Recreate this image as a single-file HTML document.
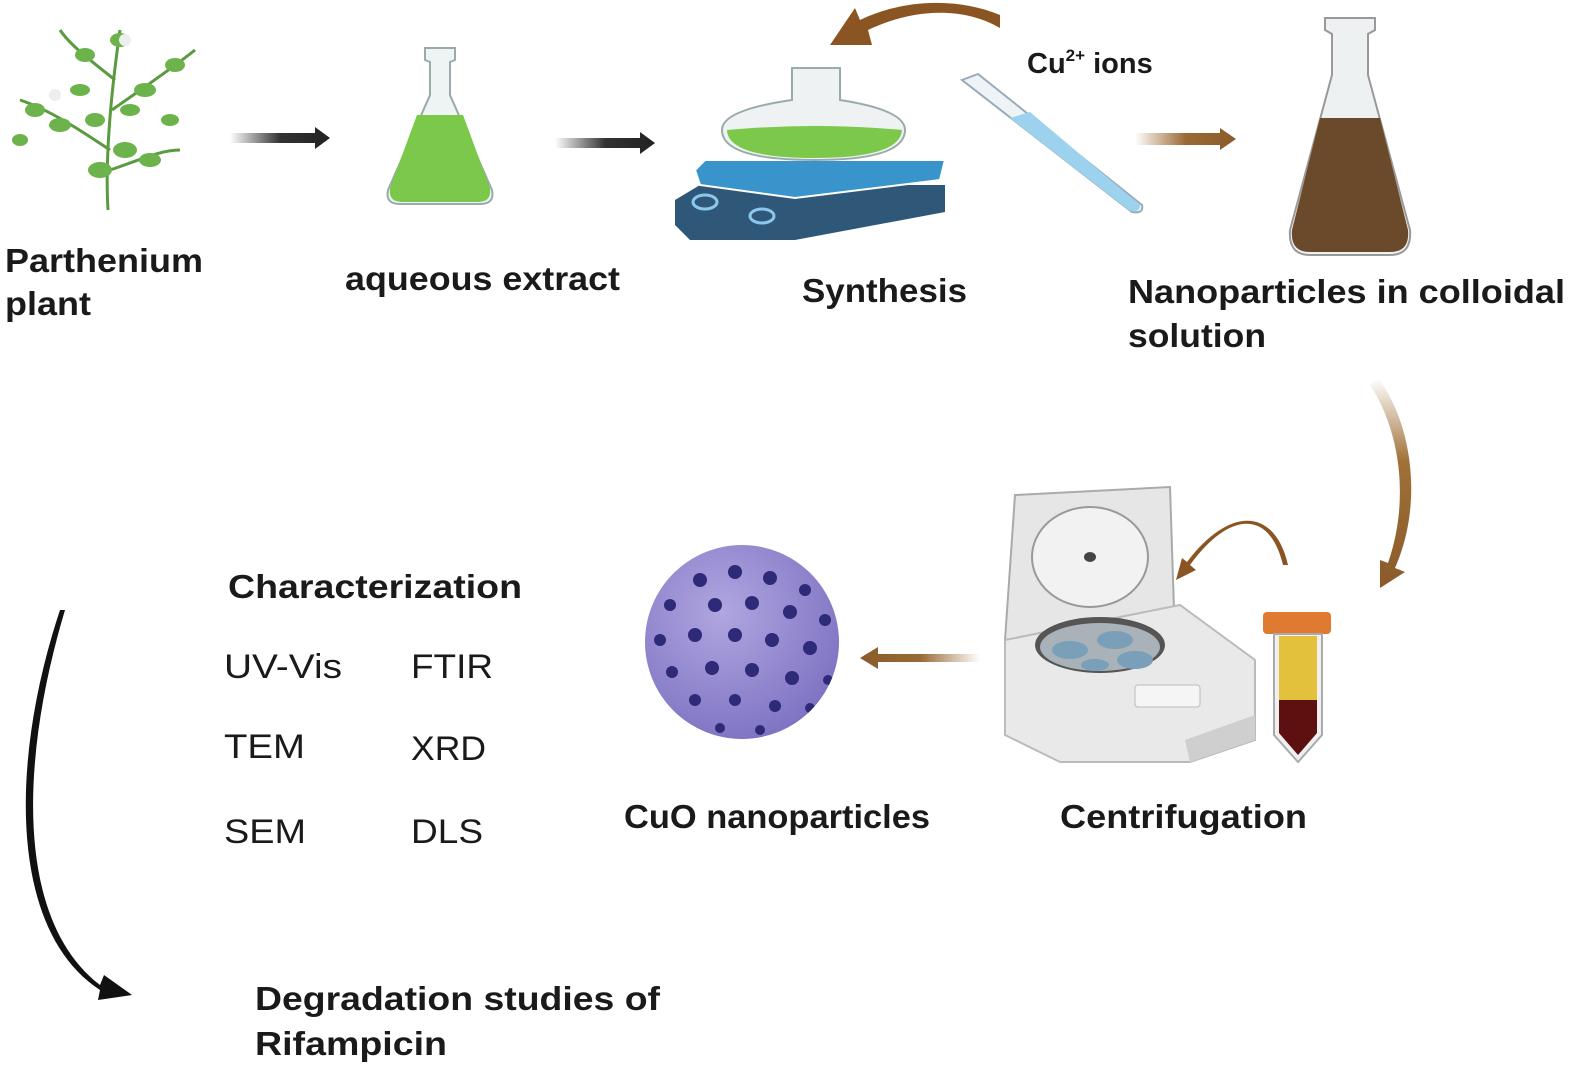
<!DOCTYPE html>
<html><head><meta charset="utf-8"><style>
html,body{margin:0;padding:0;background:#fff;}
svg{display:block;}
text{font-family:"Liberation Sans",Arial,sans-serif;fill:#1a1a1a;}
.b{font-weight:bold;font-size:33px;}
.r{font-size:34px;}
</style></head><body>
<svg width="1593" height="1088" viewBox="0 0 1593 1088" xmlns="http://www.w3.org/2000/svg">
<defs>
<linearGradient id="gk" x1="0" x2="1"><stop offset="0" stop-color="#fff"/><stop offset="0.5" stop-color="#333"/><stop offset="1" stop-color="#222"/></linearGradient>
<linearGradient id="gb" x1="0" x2="1"><stop offset="0" stop-color="#fff"/><stop offset="0.5" stop-color="#9a6a35"/><stop offset="1" stop-color="#8a5a2a"/></linearGradient>
<linearGradient id="gbr" x1="1" x2="0"><stop offset="0" stop-color="#fff"/><stop offset="0.5" stop-color="#9a6a35"/><stop offset="1" stop-color="#8a5a2a"/></linearGradient>
<linearGradient id="gbv" x1="0" y1="0" x2="0" y2="1"><stop offset="0" stop-color="#fff"/><stop offset="0.4" stop-color="#a07038"/><stop offset="1" stop-color="#8a5a2a"/></linearGradient>
<radialGradient id="sph" cx="0.4" cy="0.35" r="0.7"><stop offset="0" stop-color="#b0a6e0"/><stop offset="1" stop-color="#7d72c2"/></radialGradient>
<clipPath id="sc"><circle cx="742" cy="642" r="97"/></clipPath>
</defs>

<!-- plant -->
<g stroke="#5a9a40" stroke-width="3" fill="none">
<path d="M108 210 C105 160 110 100 120 30"/>
<path d="M110 150 C80 130 50 110 20 100"/>
<path d="M112 110 C140 90 170 70 195 50"/>
<path d="M115 80 C90 60 70 45 60 30"/>
<path d="M110 170 C140 160 160 150 180 150"/>
</g>
<g fill="#6bb34a">
<ellipse cx="100" cy="170" rx="12" ry="8"/><ellipse cx="125" cy="150" rx="12" ry="8"/>
<ellipse cx="60" cy="125" rx="11" ry="7"/><ellipse cx="35" cy="110" rx="10" ry="7"/>
<ellipse cx="145" cy="90" rx="11" ry="7"/><ellipse cx="175" cy="65" rx="10" ry="7"/>
<ellipse cx="85" cy="55" rx="10" ry="7"/><ellipse cx="120" cy="40" rx="10" ry="7"/>
<ellipse cx="150" cy="160" rx="11" ry="7"/><ellipse cx="95" cy="120" rx="10" ry="7"/>
<ellipse cx="80" cy="90" rx="10" ry="6"/><ellipse cx="130" cy="110" rx="10" ry="6"/>
<ellipse cx="20" cy="140" rx="8" ry="6"/><ellipse cx="170" cy="120" rx="9" ry="6"/>
</g>
<circle cx="125" cy="40" r="6" fill="#eee"/><circle cx="55" cy="95" r="6" fill="#eee"/>

<!-- arrows black -->
<path d="M230 133 H315 V127 L330 138 L315 149 V143 H230Z" fill="url(#gk)"/>
<path d="M555 138 H640 V132 L655 143 L640 154 V148 H555Z" fill="url(#gk)"/>

<!-- green flask -->
<path d="M425 48 H455 V60 L450 62 V95 L492 190 Q495 204 480 204 H400 Q385 204 388 190 L430 95 V62 L425 60Z" fill="#eef3f4" stroke="#9aa" stroke-width="2"/>
<path d="M417 115 H463 L490 188 Q492 202 478 202 H402 Q388 202 390 188Z" fill="#7cc84a"/>

<!-- stirrer -->
<path d="M675 200 L700 185 H945 V212 L795 240 H690 L675 225Z" fill="#2f5878"/>
<path d="M695 170 L705 160 H945 L940 180 L795 198 L700 185Z" fill="#3a94cc" stroke="#fff" stroke-width="2"/>
<ellipse cx="705" cy="202" rx="12" ry="7" fill="none" stroke="#8cc8ee" stroke-width="3"/>
<ellipse cx="762" cy="216" rx="12" ry="7" fill="none" stroke="#8cc8ee" stroke-width="3"/>
<path d="M792 68 H840 V100 Q905 110 905 130 Q905 160 815 160 Q722 160 722 130 Q722 110 792 100Z" fill="#eef2f3" stroke="#9aa" stroke-width="2"/>
<path d="M727 130 Q815 122 902 130 Q900 158 815 158 Q728 158 727 130Z" fill="#7cc84a"/>

<!-- top brown curved arrow -->
<path d="M1000 28 C960 5 910 10 868 30 L872 45 L830 45 L855 8 L860 20 C905 -2 960 -2 1000 15Z" fill="#8b5523"/>

<text x="1027" y="73" font-size="29" font-weight="bold" style="font-family:'Liberation Sans',sans-serif">Cu<tspan font-size="17" dy="-12">2+</tspan><tspan dy="12"> ions</tspan></text>

<!-- test tube -->
<path d="M962 80 L978 74 L1142 205 Q1144 214 1132 212 Z" fill="#eef3f6" stroke="#9ab" stroke-width="2"/>
<path d="M1010 118 L1030 112 L1140 205 Q1140 213 1130 211Z" fill="#9dd2ee"/>

<!-- brown arrow right -->
<path d="M1135 133 H1220 V128 L1236 139 L1220 150 V145 H1135Z" fill="url(#gb)"/>

<!-- brown flask -->
<path d="M1325 18 H1375 V30 L1368 34 V75 L1410 230 Q1412 255 1390 255 H1310 Q1288 255 1290 230 L1332 75 V34 L1325 30Z" fill="#eef1f2" stroke="#999" stroke-width="2"/>
<path d="M1320 118 H1380 L1408 230 Q1410 252 1390 252 H1310 Q1290 252 1292 230Z" fill="#6b4a2c"/>

<!-- texts row 1 -->
<text class="b" x="5" y="272" textLength="198" lengthAdjust="spacingAndGlyphs">Parthenium</text>
<text class="b" x="5" y="315" textLength="86" lengthAdjust="spacingAndGlyphs">plant</text>
<text class="b" x="345" y="290" textLength="275" lengthAdjust="spacingAndGlyphs">aqueous extract</text>
<text class="b" x="802" y="302" textLength="165" lengthAdjust="spacingAndGlyphs">Synthesis</text>
<text class="b" x="1128" y="303" textLength="437" lengthAdjust="spacingAndGlyphs">Nanoparticles in colloidal</text>
<text class="b" x="1128" y="347" textLength="138" lengthAdjust="spacingAndGlyphs">solution</text>

<!-- right down curved arrow -->
<path d="M1378 378 C1410 420 1425 500 1395 568 L1405 572 L1380 588 L1380 560 L1388 563 C1410 500 1400 430 1370 385Z" fill="url(#gbv)"/>

<!-- centrifuge -->
<path d="M1015 495 L1170 487 L1175 640 L1005 640 Z" fill="#e6e6e6" stroke="#aaa" stroke-width="2"/>
<ellipse cx="1090" cy="557" rx="58" ry="50" fill="#f2f2f2" stroke="#999" stroke-width="2"/>
<ellipse cx="1090" cy="557" rx="6" ry="5" fill="#444"/>
<path d="M1005 640 L1180 605 L1255 660 V740 L1190 762 H1060 L1005 735Z" fill="#e9e9e9" stroke="#bbb" stroke-width="2"/>
<path d="M1185 740 L1255 715 V740 L1190 762Z" fill="#cfcfcf"/>
<ellipse cx="1100" cy="645" rx="65" ry="28" fill="#555"/>
<ellipse cx="1100" cy="647" rx="60" ry="24" fill="#a9b2b8"/>
<g fill="#7a9fb8"><ellipse cx="1070" cy="650" rx="18" ry="9"/><ellipse cx="1115" cy="640" rx="18" ry="9"/><ellipse cx="1135" cy="660" rx="18" ry="9"/><ellipse cx="1095" cy="665" rx="14" ry="6"/></g>
<rect x="1135" y="685" width="65" height="22" rx="3" fill="#f5f5f5" stroke="#bbb"/>
<!-- small curved arrow -->
<path d="M1283 565 C1270 510 1230 510 1190 565 L1196 570 L1176 580 L1182 558 L1187 562 C1230 505 1275 508 1288 565Z" fill="#8b5523"/>
<!-- tube -->
<rect x="1263" y="612" width="68" height="22" rx="4" fill="#e07a30"/>
<path d="M1274 634 H1322 V735 L1298 762 L1274 735Z" fill="#f0f0f0" stroke="#aaa" stroke-width="2"/>
<path d="M1279 636 H1317 V700 H1279Z" fill="#e3c13c"/>
<path d="M1279 700 H1317 V733 L1298 755 L1279 733Z" fill="#5e0f10"/>

<!-- arrow to sphere -->
<path d="M980 654 H878 V647 L860 658 L878 669 V662 H980Z" fill="url(#gbr)"/>

<!-- sphere -->
<circle cx="742" cy="642" r="97" fill="url(#sph)"/>
<g clip-path="url(#sc)" fill="#2e2a78">
<circle cx="700" cy="580" r="7"/><circle cx="735" cy="572" r="7"/><circle cx="770" cy="578" r="7"/><circle cx="805" cy="590" r="6"/>
<circle cx="670" cy="605" r="6"/><circle cx="715" cy="605" r="7"/><circle cx="752" cy="603" r="7"/><circle cx="790" cy="612" r="7"/><circle cx="825" cy="620" r="6"/>
<circle cx="660" cy="640" r="6"/><circle cx="695" cy="635" r="7"/><circle cx="735" cy="635" r="7"/><circle cx="772" cy="640" r="7"/><circle cx="810" cy="648" r="7"/>
<circle cx="672" cy="672" r="6"/><circle cx="712" cy="668" r="7"/><circle cx="752" cy="670" r="7"/><circle cx="792" cy="678" r="7"/><circle cx="828" cy="680" r="5"/>
<circle cx="695" cy="700" r="6"/><circle cx="735" cy="700" r="6"/><circle cx="775" cy="706" r="6"/><circle cx="810" cy="708" r="5"/><circle cx="720" cy="728" r="5"/><circle cx="760" cy="730" r="5"/>
</g>

<text class="b" x="624" y="828" textLength="306" lengthAdjust="spacingAndGlyphs">CuO nanoparticles</text>
<text class="b" x="1060" y="828" textLength="247" lengthAdjust="spacingAndGlyphs">Centrifugation</text>

<text class="b" x="228" y="598" textLength="294" lengthAdjust="spacingAndGlyphs">Characterization</text>
<text class="r" x="224" y="678" textLength="118" lengthAdjust="spacingAndGlyphs">UV-Vis</text>
<text class="r" x="411" y="678" textLength="82" lengthAdjust="spacingAndGlyphs">FTIR</text>
<text class="r" x="224" y="758" textLength="81" lengthAdjust="spacingAndGlyphs">TEM</text>
<text class="r" x="411" y="760" textLength="75" lengthAdjust="spacingAndGlyphs">XRD</text>
<text class="r" x="224" y="843" textLength="82" lengthAdjust="spacingAndGlyphs">SEM</text>
<text class="r" x="411" y="843" textLength="72" lengthAdjust="spacingAndGlyphs">DLS</text>

<!-- big black curved arrow -->
<path d="M65 610 C20 760 15 920 100 985 L104 975 L132 995 L98 1000 L100 990 C8 930 10 760 60 610Z" fill="#111"/>

<text class="b" x="255" y="1010" textLength="405" lengthAdjust="spacingAndGlyphs">Degradation studies of</text>
<text class="b" x="255" y="1055" textLength="192" lengthAdjust="spacingAndGlyphs">Rifampicin</text>
</svg>
</body></html>
